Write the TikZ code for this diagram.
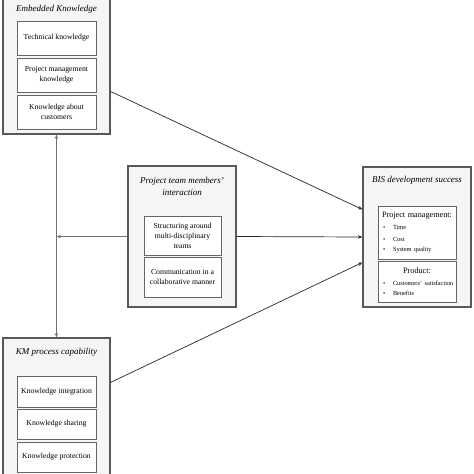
\documentclass[tikz,border=0pt]{standalone}
\usepackage{fontspec}
\setmainfont{Liberation Serif}
\usepackage{tikz}
\usetikzlibrary{arrows.meta,calc}

\begin{document}
\begin{tikzpicture}[x=1pt, y=-1pt,
    >={Stealth[length=4.5pt,width=3.5pt]},
    outerbox/.style={draw=black!65, line width=1.1pt, fill=black!4, inner sep=0pt},
    innerbox/.style={draw=black!60, line width=0.8pt, fill=white, inner sep=2pt,
                     align=center, font=\fontsize{7.7}{10}\selectfont},
    listbox/.style={innerbox, minimum width=78pt, text width=74pt, align=left},
    boxtitle/.style={align=center, font=\fontsize{9}{12}\selectfont\itshape},
    link/.style={->, line width=0.7pt, black!85},
    backlink/.style={line width=0.9pt, black!55}
]
    \clip (0,0) rectangle (474,474);

    % outer boxes
    \node[outerbox, minimum width=107pt, minimum height=136pt] (emb) at (56.5,66) {};
    \node[outerbox, minimum width=108pt, minimum height=141pt] (mid) at (182,236.5) {};
    \node[outerbox, minimum width=108pt, minimum height=140pt] (bis) at (417,237) {};
    \node[outerbox, minimum width=107pt, minimum height=148pt] (km) at (56.5,412) {};

    % titles
    \node[boxtitle] (embtitle) at (56.5,9) {Embedded Knowledge};
    \node[boxtitle] (midtitle) at (182,186) {Project team members'\\interaction};
    \node[boxtitle] (bistitle) at (417,180) {BIS development success};
    \node[boxtitle] (kmtitle) at (56.5,352) {KM process capability};

    % embedded knowledge
    \node[innerbox, minimum width=79pt, minimum height=34pt] (tech) at (56.5,38) {Technical knowledge};
    \node[innerbox, minimum width=79pt, minimum height=34pt] (pmk) at (56.5,75) {Project management\\knowledge};
    \node[innerbox, minimum width=79pt, minimum height=34pt] (cust) at (56.5,112) {Knowledge about\\customers};

    % team interaction
    \node[innerbox, minimum width=77pt, minimum height=39pt] (struct) at (182.5,235.5) {Structuring around\\multi-disciplinary\\teams};
    \node[innerbox, minimum width=77pt, minimum height=40pt] (comm) at (182.5,277) {Communication in a\\collaborative manner};

    % success
    \node[listbox, minimum height=53pt] (pm) at (417,232.5) {%
        {\centering\fontsize{8.2}{14}\selectfont Project management:\par}
        \fontsize{6.3}{12}\selectfont
        \hspace*{3pt}\makebox[10pt][l]{\textbullet}Time\par
        \hspace*{3pt}\makebox[10pt][l]{\textbullet}Cost\par
        \hspace*{3pt}\makebox[10pt][l]{\textbullet}System quality};
    \node[listbox, minimum height=41pt] (prod) at (417,281.5) {%
        {\centering\fontsize{8.2}{15}\selectfont Product:\par}
        \fontsize{6.3}{12}\selectfont
        \hspace*{3pt}\makebox[10pt][l]{\textbullet}Customers' satisfaction\par
        \hspace*{3pt}\makebox[10pt][l]{\textbullet}Benefits};

    % KM process
    \node[innerbox, minimum width=79pt, minimum height=31pt] (integ) at (56.5,391.5) {Knowledge integration};
    \node[innerbox, minimum width=79pt, minimum height=30pt] (share) at (56.5,424) {Knowledge sharing};
    \node[innerbox, minimum width=79pt, minimum height=30pt] (prot) at (56.5,457) {Knowledge protection};

    % connectors
    \draw[link] ($(emb.north east)+(0,94)$) -- ($(bis.north west)+(0,43)$);
    \draw[link] (mid.east) -- (bis.west);
    \draw[link] ($(km.north east)+(0,45)$) -- ($(bis.north west)+(0,96)$);
    \draw[backlink, <->] (emb.south) -- (km.north);
    \draw[backlink, ->] (mid.west) -- (mid.west -| emb.south);
\end{tikzpicture}
\end{document}
